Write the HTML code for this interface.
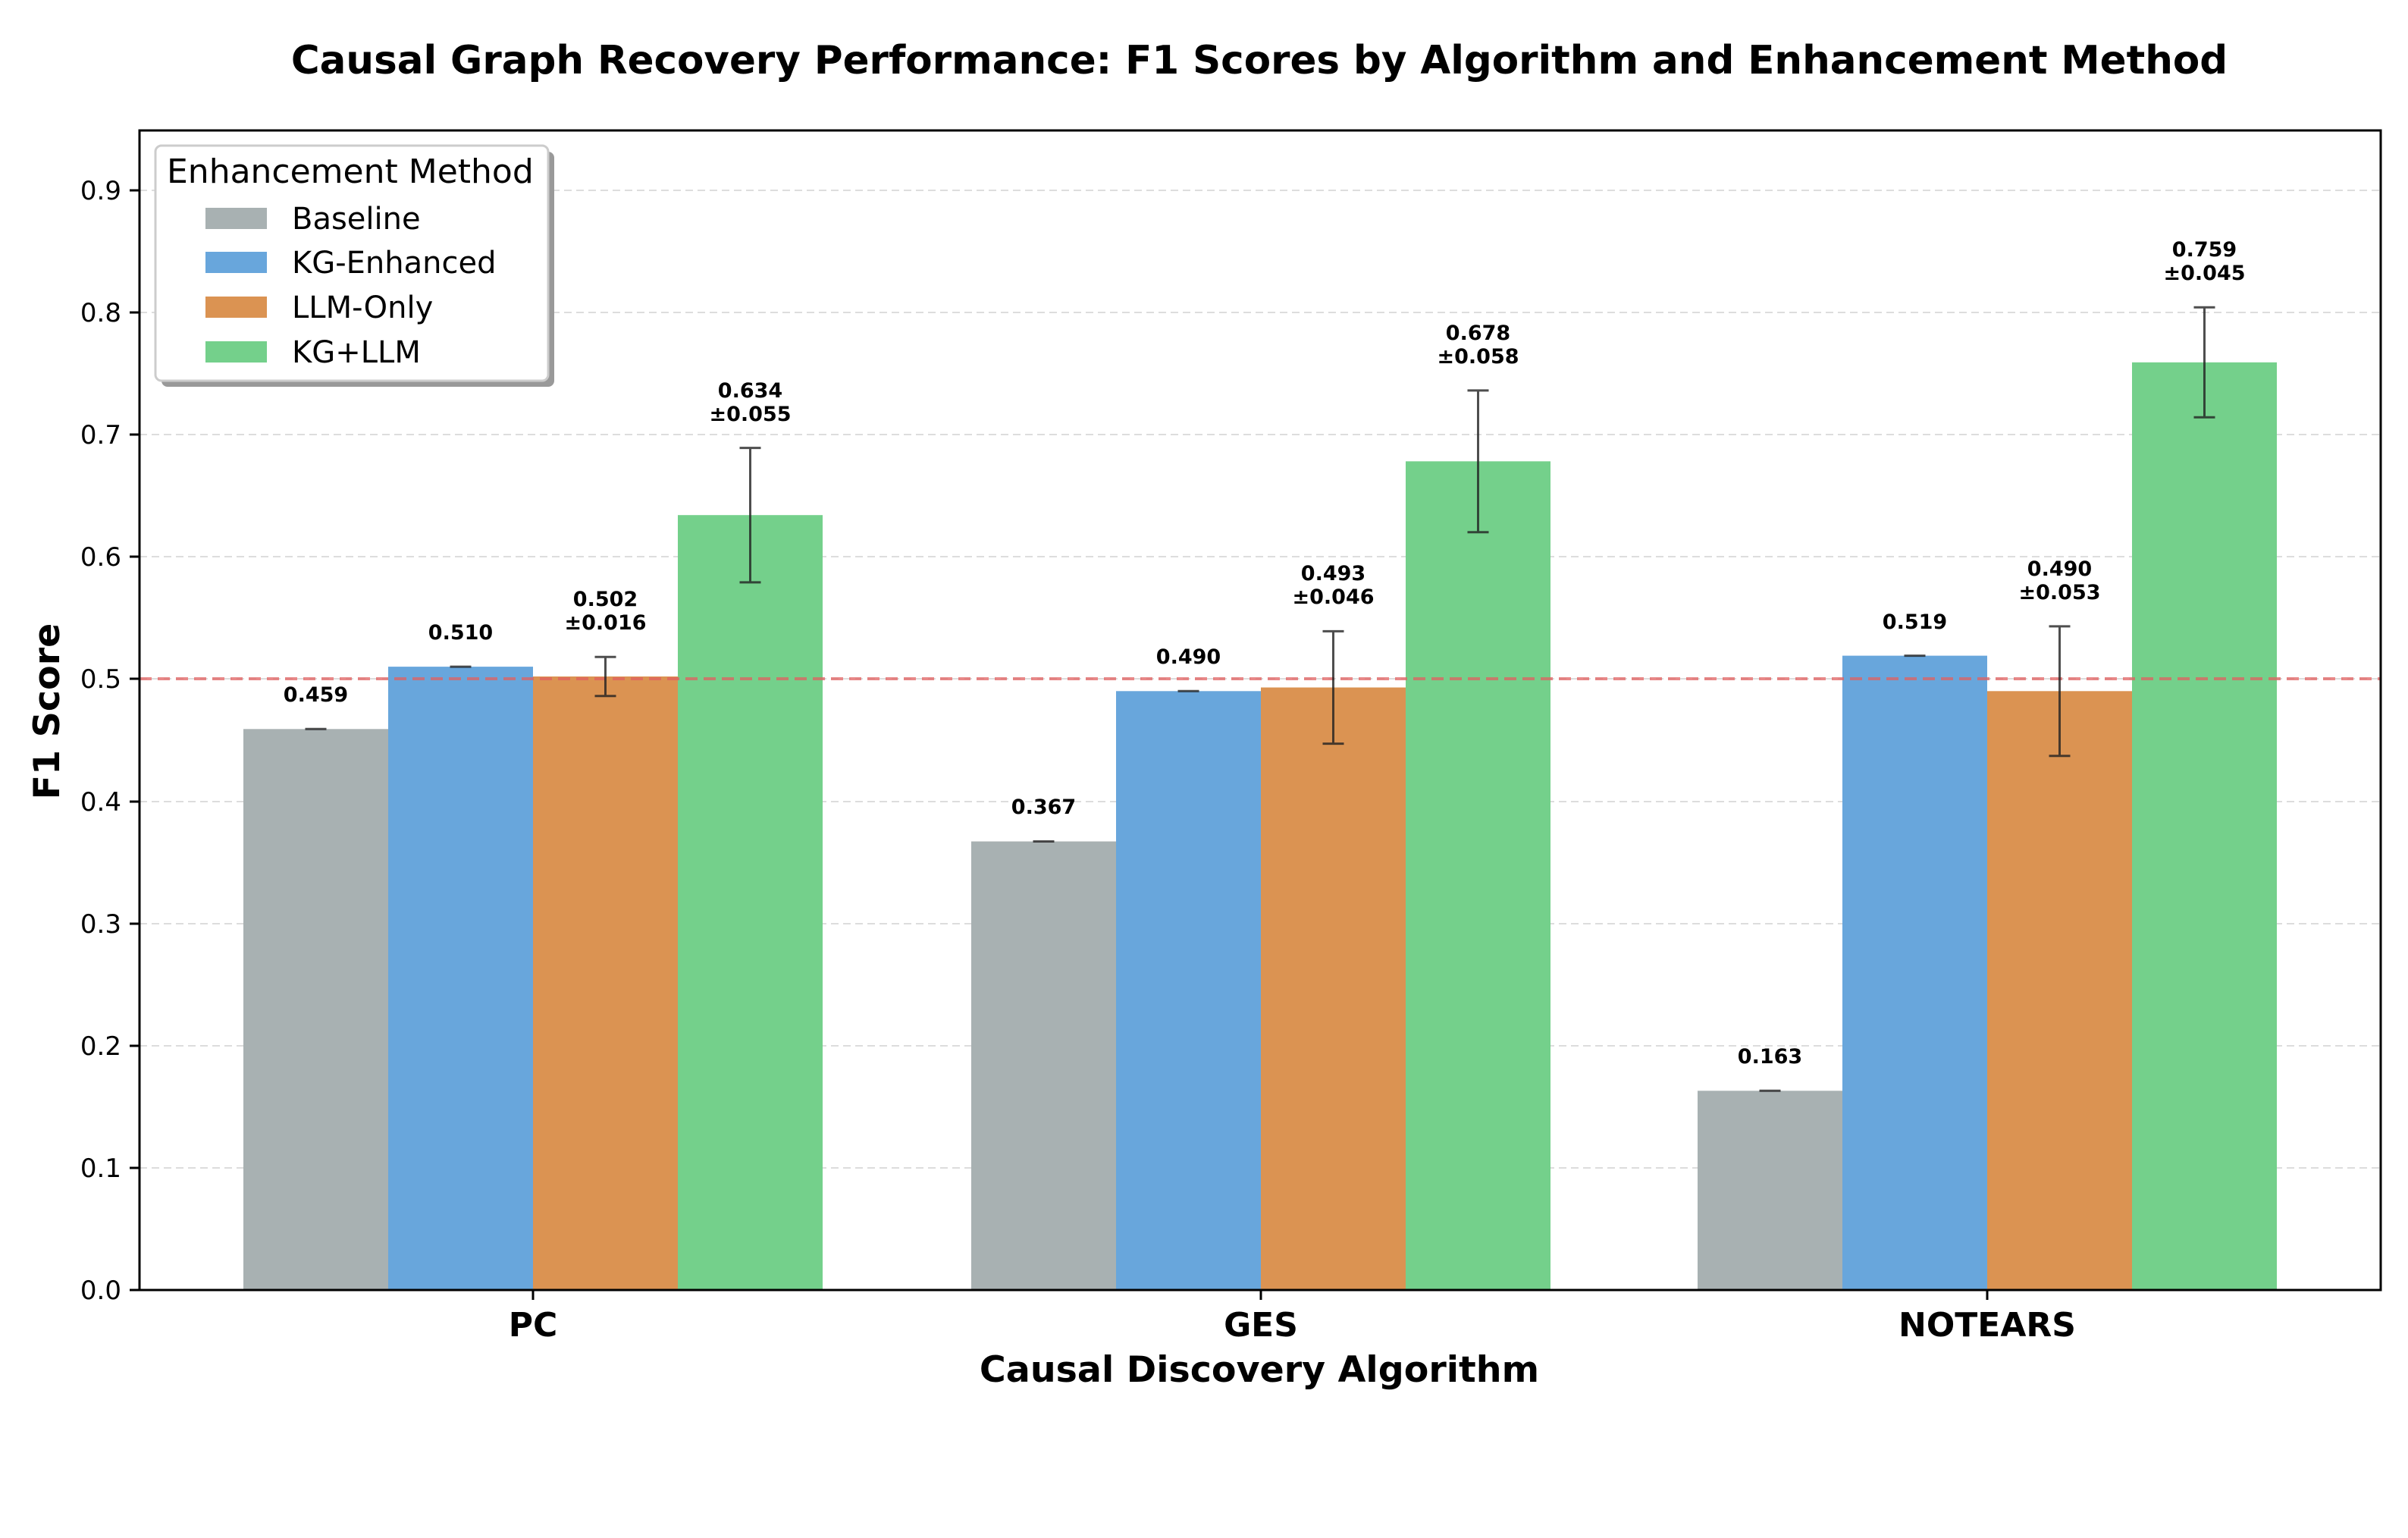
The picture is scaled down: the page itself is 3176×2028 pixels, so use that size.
<!DOCTYPE html>
<html><head><meta charset="utf-8"><style>body{margin:0;background:#fff}svg{display:block}text{font-family:"DejaVu Sans","Liberation Sans",sans-serif}</style></head>
<body>
<svg width="3176" height="2028" viewBox="0 0 3176 2028" xmlns="http://www.w3.org/2000/svg">
<rect width="3176" height="2028" fill="#fff"/>
<text x="1661" y="97" font-size="51.5" font-weight="bold" text-anchor="middle">Causal Graph Recovery Performance: F1 Scores by Algorithm and Enhancement Method</text>
<g stroke="#ddd" stroke-width="2" stroke-dasharray="10,6">
<line x1="184" x2="3140" y1="251" y2="251"/><line x1="184" x2="3140" y1="412" y2="412"/><line x1="184" x2="3140" y1="573" y2="573"/><line x1="184" x2="3140" y1="734" y2="734"/><line x1="184" x2="3140" y1="895" y2="895"/><line x1="184" x2="3140" y1="1057" y2="1057"/><line x1="184" x2="3140" y1="1218" y2="1218"/><line x1="184" x2="3140" y1="1379" y2="1379"/><line x1="184" x2="3140" y1="1540" y2="1540"/>
</g>
<g>
<rect x="321" y="961.3" width="191" height="739.7" fill="#a8b1b2"/>
<rect x="512" y="879.1" width="191" height="821.9" fill="#68a6dc"/>
<rect x="703" y="892" width="191" height="809" fill="#db9352"/>
<rect x="894" y="679.2" width="191" height="1021.8" fill="#74d08b"/>
<rect x="1281" y="1109.5" width="191" height="591.5" fill="#a8b1b2"/>
<rect x="1472" y="911.3" width="191" height="789.7" fill="#68a6dc"/>
<rect x="1663" y="906.5" width="191" height="794.5" fill="#db9352"/>
<rect x="1854" y="608.3" width="191" height="1092.7" fill="#74d08b"/>
<rect x="2239" y="1438.3" width="191" height="262.7" fill="#a8b1b2"/>
<rect x="2430" y="864.6" width="191" height="836.4" fill="#68a6dc"/>
<rect x="2621" y="911.3" width="191" height="789.7" fill="#db9352"/>
<rect x="2812" y="477.8" width="191" height="1223.2" fill="#74d08b"/>
</g>
<line x1="184" x2="3140" y1="895" y2="895" stroke="#e06060" stroke-opacity="0.75" stroke-width="4" stroke-dasharray="16,8"/>
<g stroke="#222" stroke-opacity="0.8" stroke-width="3">
<path d="M402.5 961.3h28M593.5 879.1h28M1362.5 1109.5h28M1553.5 911.3h28M2320.5 1438.3h28M2511.5 864.6h28"/>
<path d="M798.5 866.2v51.6M784.5 866.2h28M784.5 917.8h28"/>
<path d="M989.5 590.6v177.3M975.5 590.6h28M975.5 767.9h28"/>
<path d="M1758.5 832.4v148.2M1744.5 832.4h28M1744.5 980.6h28"/>
<path d="M1949.5 514.9v186.9M1935.5 514.9h28M1935.5 701.8h28"/>
<path d="M2716.5 825.9v170.8M2702.5 825.9h28M2702.5 996.7h28"/>
<path d="M2907.5 405.3v145M2893.5 405.3h28M2893.5 550.3h28"/>
</g>
<g font-size="27" font-weight="bold" text-anchor="middle">
<text x="416.5" y="925">0.459</text>
<text x="607.5" y="843">0.510</text>
<text x="798.5" y="799">0.502</text><text x="798.5" y="830">±0.016</text>
<text x="989.5" y="524">0.634</text><text x="989.5" y="555">±0.055</text>
<text x="1376.5" y="1073">0.367</text>
<text x="1567.5" y="875">0.490</text>
<text x="1758.5" y="765">0.493</text><text x="1758.5" y="796">±0.046</text>
<text x="1949.5" y="448">0.678</text><text x="1949.5" y="479">±0.058</text>
<text x="2334.5" y="1402">0.163</text>
<text x="2525.5" y="829">0.519</text>
<text x="2716.5" y="759">0.490</text><text x="2716.5" y="790">±0.053</text>
<text x="2907.5" y="338">0.759</text><text x="2907.5" y="369">±0.045</text>
</g>
<rect x="184" y="172" width="2956" height="1529" fill="none" stroke="#000" stroke-width="3"/>
<g stroke="#000" stroke-width="3">
<path d="M171 251h13M171 412h13M171 573h13M171 734h13M171 895h13M171 1057h13M171 1218h13M171 1379h13M171 1540h13M171 1701h13"/>
<path d="M703 1701v13M1663 1701v13M2621 1701v13"/>
</g>
<g font-size="34" text-anchor="end">
<text x="160" y="263">0.9</text><text x="160" y="424">0.8</text><text x="160" y="585">0.7</text><text x="160" y="746">0.6</text><text x="160" y="907">0.5</text><text x="160" y="1069">0.4</text><text x="160" y="1230">0.3</text><text x="160" y="1391">0.2</text><text x="160" y="1552">0.1</text><text x="160" y="1713">0.0</text>
</g>
<g font-size="44" font-weight="bold" text-anchor="middle">
<text x="703" y="1762">PC</text><text x="1663" y="1762">GES</text><text x="2621" y="1762">NOTEARS</text>
</g>
<text x="1661" y="1822" font-size="47.5" font-weight="bold" text-anchor="middle">Causal Discovery Algorithm</text>
<text transform="translate(78,938) rotate(-90)" font-size="47.5" font-weight="bold" text-anchor="middle">F1 Score</text>
<rect x="213" y="200" width="518" height="310" rx="8" fill="#999"/>
<rect x="205" y="192" width="518" height="310" rx="8" fill="#fff" stroke="#ccc" stroke-width="3"/>
<text x="220" y="241" font-size="44">Enhancement Method</text>
<rect x="271" y="274" width="81" height="28" fill="#a8b1b2"/>
<rect x="271" y="332" width="81" height="28" fill="#68a6dc"/>
<rect x="271" y="391" width="81" height="28" fill="#db9352"/>
<rect x="271" y="450" width="81" height="28" fill="#74d08b"/>
<g font-size="40"><text x="385" y="302">Baseline</text><text x="385" y="360">KG-Enhanced</text><text x="385" y="419">LLM-Only</text><text x="385" y="478">KG+LLM</text></g>
</svg>
</body></html>
